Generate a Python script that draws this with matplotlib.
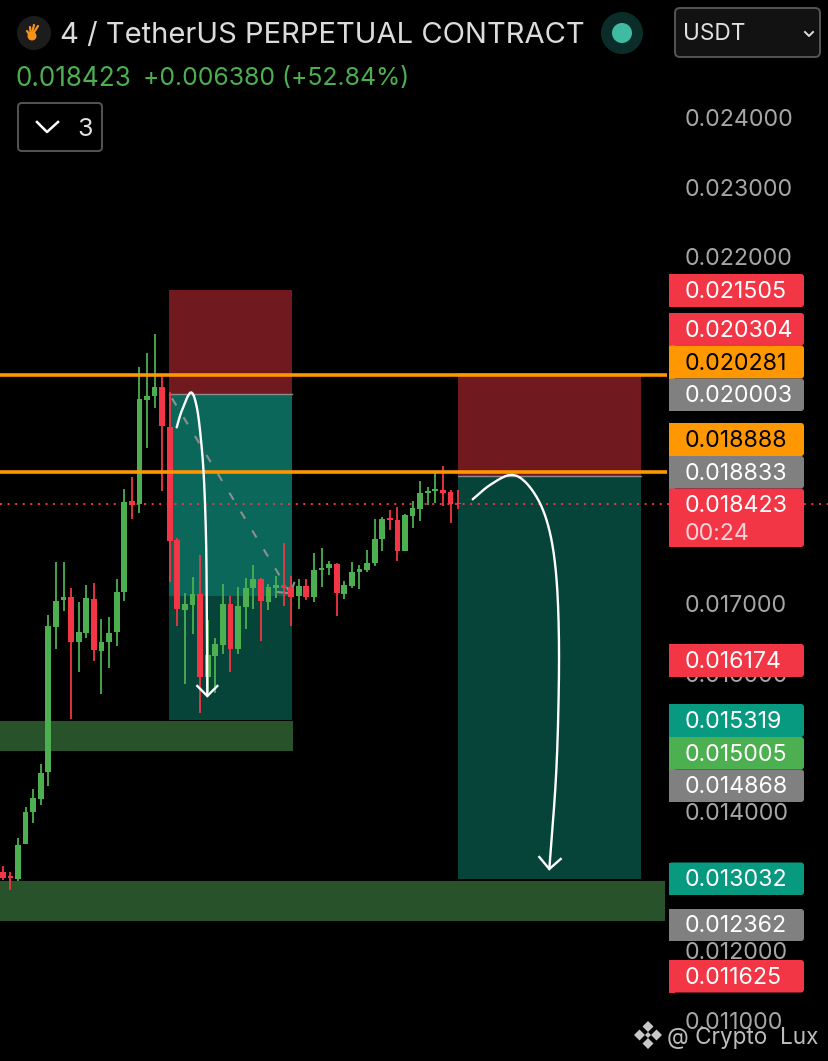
import numpy as np
import matplotlib
matplotlib.use("Agg")
import matplotlib.pyplot as plt
from matplotlib.patches import FancyBboxPatch, Rectangle, Circle, Polygon
from matplotlib.ticker import FixedLocator, FuncFormatter

plt.rcParams['font.family'] = ['Inter', 'DejaVu Sans']

# Prices in millionths of USDT
UNIT = 1e-6
opens = [13135,13077,13038,13534,13995,14186,14571,16669,17050,17101,16449,16574,17073,16319,16449,16588,17169,18481,18433,19940,
         19994,20119,19551,17919,16914,16982,17145,15944,16251,16401,16992,16344,16949,17227,17352,17030,17223,17270,17241,17116,
         17256,17097,17486,17511,17573,17140,17256,17457,17491,17583,17937,18236,18211,17760,18269,18370,18591,18625,18635,18610,18452]
closes = [13044,13048,13528,13999,14196,14565,16675,17044,17101,16449,16593,17083,16329,16453,16583,17174,18471,18423,19950,19998,
          20119,19561,17908,16929,17001,17140,15944,16261,16416,16996,16352,16963,17231,17352,17040,17241,17270,17231,17101,17256,
          17097,17486,17519,17573,17151,17270,17462,17501,17587,17933,18221,18211,17760,18275,18380,18591,18620,18649,18596,18437,18433]
highs = [13221,13130,13620,14067,14335,14686,16838,17597,17597,17231,17025,17266,17295,16776,16805,17361,18654,18831,20407,20618,
         20887,20292,20051,17943,17151,17390,17698,16766,16502,17285,17116,17241,17367,17554,17367,17285,17400,17871,17400,17357,
         17357,17731,17803,17612,17583,17332,17602,17554,17774,18221,18246,18351,18390,18293,18476,18773,18682,18898,18981,18639,18639]
lows = [13019,12875,13009,13534,13836,14104,14374,16344,16891,15339,16021,16506,16171,15704,16078,16391,17040,18217,18308,19249,
        19816,18625,17309,16679,15848,16560,15430,15728,15709,16280,16012,16271,16640,16920,16468,16910,17087,16972,16679,16920,
        17058,17021,17241,17410,16828,17073,17223,17213,17457,17540,17760,18063,17620,17760,18096,18197,18423,18452,18413,18164,18370]

y_ticks = [0.024,0.023,0.022,0.021,0.020,0.019,0.018,0.017,0.016,0.015,0.014,0.013,0.012,0.011]

# Position tools: (first bar, last bar, stop, entry, target)
left_tool = (21.9, 38.15, 21520, 20023, 15325)
left_mid = 17112
right_tool = (59.95, 84.15, 20330, 18841, 13034)
zones = [(-0.4, 38.2, 15310, 14878), (-0.4, 87.3, 13005, 12428)]
orange_levels = [20296, 18900]
last_price = 18433

tags = [("0.021505", 274, 307, "#f23645", "white"),
        ("0.020304", 313, 345.5, "#f23645", "white"),
        ("0.020281", 345.5, 378.5, "#ff9800", "black"),
        ("0.020003", 378.5, 411, "#808080", "white"),
        ("0.018888", 423, 456, "#ff9800", "black"),
        ("0.018833", 456, 488.5, "#808080", "white"),
        ("0.016174", 644, 677, "#f23645", "white"),
        ("0.015319", 704, 737, "#089981", "white"),
        ("0.015005", 737, 769.5, "#4caf50", "white"),
        ("0.014868", 769.5, 802, "#808080", "white"),
        ("0.013032", 862.5, 895, "#089981", "white"),
        ("0.012362", 909, 941, "#808080", "white"),
        ("0.011625", 960, 992.5, "#f23645", "white")]

W, H = 829, 1061
PRICE_FS = 16.7
fig = plt.figure(figsize=(W/100, H/100), dpi=100, facecolor="black")
ax = fig.add_axes([0, 0, 1, 1], facecolor="black")
ax.set_xlim(-0.369, 108.88)
ax.set_ylim(10411*UNIT, 25700*UNIT)
for s in ax.spines.values():
    s.set_visible(False)
ax.xaxis.set_visible(False)
ax.yaxis.set_major_locator(FixedLocator(y_ticks))
ax.yaxis.set_major_formatter(FuncFormatter(lambda v, _: f"{v:.6f}"))
ax.tick_params(axis="y", which="both", length=0, left=False, right=False, labelleft=False,
               labelright=True, pad=-103.7, labelsize=PRICE_FS, labelcolor="#a6a6a6")

def box(x0, x1, y0, y1, color, z=1):
    ax.add_patch(Rectangle((x0, y0*UNIT), x1-x0, (y1-y0)*UNIT, facecolor=color, edgecolor="none", zorder=z))

a, b, stop, entry, target = left_tool
box(a, b, entry, stop, "#701a20")
box(a, b, left_mid, entry, "#0b6759")
box(a, b, target, left_mid, "#06443a")
ax.plot([a, b], [entry*UNIT]*2, color="#8c8c8c", lw=1, zorder=2)
a, b, stop, entry, target = right_tool
box(a, b, entry, stop, "#701a20")
box(a, b, target, entry, "#06443a")
ax.plot([a, b], [entry*UNIT]*2, color="#8c8c8c", lw=1, zorder=2)
for a, b, y0, y1 in zones:
    box(a, b, y1, y0, "#27522a", 1.5)

# dashed diagonal of the left tool
ax.plot([22.3, 37.9], [19960*UNIT, 17150*UNIT], color="#8f8f8f", lw=1.5, dashes=(4, 6.6), zorder=2)
ax.plot([36.2, 37.9, 38.4], [17170*UNIT, 17150*UNIT, 17300*UNIT], color="#8f8f8f", lw=1.5, zorder=2)

ax.axhline(last_price*UNIT, color="#f23645", lw=1.4, dashes=(1, 2.9), zorder=2.5)
for lv in orange_levels:
    ax.plot([-0.4, 87.5], [lv*UNIT]*2, color="#ff9800", lw=2.6, zorder=3.5, solid_capstyle="butt")

o = np.array(opens)*UNIT
c = np.array(closes)*UNIT
hi = np.array(highs)*UNIT
lo = np.array(lows)*UNIT
x = np.arange(len(o))
cols = np.where(c >= o, "#4caf50", "#f23645")
ax.vlines(x, lo, hi, colors=cols, linewidths=1.3, zorder=3)
ax.bar(x, np.abs(c-o), bottom=np.minimum(o, c), width=0.76, color=cols, linewidth=0, zorder=3)

# Overlay in reference pixels
ui = fig.add_axes([0, 0, 1, 1], facecolor="none", zorder=5)
ui.set_xlim(0, W)
ui.set_ylim(H, 0)
ui.axis("off")

def spline(pts, n=24):
    P = np.array(pts, float)
    P = np.vstack([2*P[0]-P[1], P, 2*P[-1]-P[-2]])
    out = []
    for i in range(1, len(P)-2):
        t = np.linspace(0, 1, n)[:, None]
        p0, p1, p2, p3 = P[i-1], P[i], P[i+1], P[i+2]
        out.append(0.5*((2*p1)+(-p0+p2)*t+(2*p0-5*p1+4*p2-p3)*t**2+(-p0+3*p1-3*p2+p3)*t**3))
    return np.vstack(out)

curve1 = [(176.7,427.3),(181.7,411),(190.7,392.5),(196.7,406.7),(201,440),(204,480),(206,536.7),(206.7,593),(207.3,696)]
curve2 = [(472.7,499.3),(490,485),(510,475),(525,481.7),(540,503.3),(550,533),(556,573),(558.7,626.7),(558.7,693),(556,776.7),(549.3,869)]
for crv, head in [(curve1, [(197.3,686),(207.3,696),(217.3,686)]), (curve2, [(539.3,857),(549.3,869),(560.7,859)])]:
    s = spline(crv)
    ui.plot(s[:, 0], s[:, 1], color="white", lw=1.7, solid_capstyle="round")
    h = np.array(head)
    ui.plot(h[:, 0], h[:, 1], color="white", lw=1.7, solid_joinstyle="miter")

def tag(y0, y1, color):
    ui.add_patch(FancyBboxPatch((672, y0+3), 129, y1-y0-6, boxstyle="round,pad=3,rounding_size=3", facecolor=color, edgecolor="none"))
    ui.add_patch(Rectangle((669, y0), 6, y1-y0, facecolor=color, edgecolor="none"))

for txt, y0, y1, col, tc in tags:
    tag(y0, y1, col)
    ui.text(685, (y0+y1)/2+1.5, txt, color=tc, fontsize=PRICE_FS, ha="left", va="center")
tag(488.5, 547, "#f23645")
ui.text(685, 506.5, "0.018423", color="white", fontsize=PRICE_FS, ha="left", va="center")
ui.text(685, 534.5, "00:24", color="#fbd3d8", fontsize=PRICE_FS, ha="left", va="center")

# Header
ui.add_patch(Circle((34, 33), 17, facecolor="#1c1c1c", edgecolor="none"))
for dx, dy in [(-7,-2),(-4,-6),(0,-8),(4,-7)]:
    ui.plot([31, 31+dx+3], [37, 33+dy], color="#f7931a", lw=1.6, solid_capstyle="round")
ui.add_patch(Circle((32, 36), 4.5, facecolor="#f7931a", edgecolor="none"))
ui.text(60, 35.5, "4 / TetherUS PERPETUAL CONTRACT", color="#dcdcdc", fontsize=21.0, ha="left", va="center")
ui.add_patch(Circle((622, 33), 21, facecolor="#0a2d2a", edgecolor="none"))
ui.add_patch(Circle((622, 33), 10, facecolor="#3fbba3", edgecolor="none"))
ui.add_patch(FancyBboxPatch((679, 12), 137, 41, boxstyle="round,pad=4,rounding_size=5", facecolor="#121212", edgecolor="#555555", lw=1.4))
ui.text(683, 34, "USDT", color="#e0e0e0", fontsize=16.3, ha="left", va="center")
ui.plot([805, 809, 813], [32, 36, 32], color="#e0e0e0", lw=1.4)
ui.text(16, 79, "0.018423", color="#4caf50", fontsize=18.8, ha="left", va="center")
ui.text(143, 79, "+0.006380 (+52.84%)", color="#4caf50", fontsize=17.85, ha="left", va="center")
ui.add_patch(FancyBboxPatch((22, 107), 76, 40, boxstyle="round,pad=4,rounding_size=4", facecolor="black", edgecolor="#555555", lw=1.4))
ui.plot([37, 47, 58], [122, 132, 122], color="white", lw=1.8)
ui.text(85, 129.5, "3", color="#e0e0e0", fontsize=18, ha="center", va="center")

# Watermark
for dx, dy in [(0,-8.5),(-8.5,0),(8.5,0),(0,8.5),(0,0)]:
    size = 5.5 if (dx, dy) != (0, 0) else 3
    ui.add_patch(Polygon([(648+dx, 1035+dy-size),(648+dx+size, 1035+dy),(648+dx, 1035+dy+size),(648+dx-size, 1035+dy)],
                         facecolor="#c8c8c8", edgecolor="none"))
ui.text(667, 1038, "@ Crypto  Lux", color="#bdbdbd", fontsize=16.2, ha="left", va="center")

fig.savefig("out.png", dpi=100, facecolor="black")
